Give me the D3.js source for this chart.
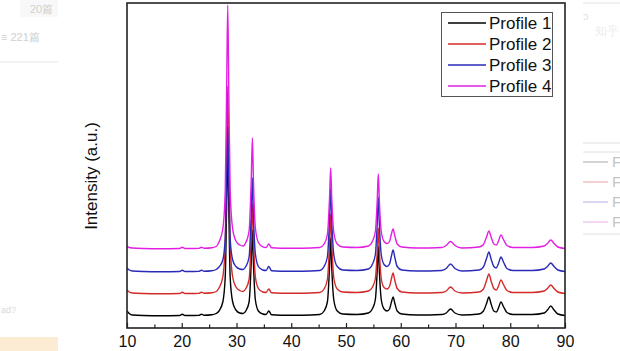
<!DOCTYPE html>
<html>
<head>
<meta charset="utf-8">
<script src="https://cdn.jsdelivr.net/npm/d3@7"></script>
<style>
    body { margin: 0; background: #fff; }
    svg { display: block; font-family: Arial, "Liberation Sans", sans-serif; }
</style>
</head>
<body>
<svg id="chart" width="620" height="351"></svg>
<script>
// 2theta grid shared by every profile (deg)
let twoTheta = [10, 10.4, 11, 13, 16, 19.6, 20.1, 20.6, 23.1, 23.6, 24.1, 25.5, 26.3,
    26.8, 27.5, 27.95, 28.2, 28.4, 28.6, 28.85, 29.3, 29.9, 30.6, 31.2,
    31.7, 32.3, 32.7, 32.9, 33.1, 33.45, 34.0, 34.8,
    35.4, 35.9, 36.4, 38, 42, 45.2,
    46.0, 46.6, 47.0, 47.2, 47.4, 47.8, 48.4, 49.4, 52, 54.1,
    54.8, 55.35, 55.7, 55.9, 56.1, 56.45, 56.95, 57.5,
    57.95, 58.3, 58.6, 58.9, 59.35, 60.2, 63, 67.5,
    68.3, 69.1, 69.9, 71.2, 74.3,
    75.1, 75.7, 76.1, 76.5, 77.0, 77.45,
    77.85, 78.3, 78.8, 79.4, 80.5, 84, 86.2,
    86.8, 87.4, 88.0, 88.7, 90];

// intensity above each profile's own baseline (a.u.)
let profile1 = [5, 2.5, 1, 0.5, 0.3, 0.5, 1.8, 0.5, 0.6, 1.8, 0.7, 1.2, 2.5,
    5, 14, 40, 110, 166, 105, 38, 14, 6, 3, 2.5,
    5, 14, 55, 86, 52, 16, 5, 2,
    1.5, 5, 1.2, 0.8, 0.8, 1.5,
    5, 14, 50, 78, 48, 15, 5, 2, 1.5, 3,
    7, 16, 45, 70, 44, 16, 7, 5,
    7, 14, 19, 13, 5, 2, 1, 1.5,
    3, 7, 3, 1, 2,
    5, 13, 19, 12, 5, 4,
    8, 14, 9, 3.5, 1.5, 1.5, 3,
    6, 10, 6, 2, 0.5];
let profile2 = [4, 2, 1, 0.5, 0.3, 0.5, 1.8, 0.5, 0.6, 1.8, 0.7, 1.2, 2.5,
    6, 17, 50, 137, 208, 131, 48, 17, 7, 3.5, 2.5,
    5.5, 14.5, 58, 90, 54, 17, 5.5, 2,
    1.5, 5, 1.2, 0.8, 0.8, 1.5,
    5, 14.5, 51, 80, 50, 15, 5, 2, 1.5, 3,
    6.5, 15, 42, 66, 42, 15, 6.5, 5,
    7.5, 15.5, 21, 14, 5.5, 2, 1, 1.5,
    3, 7, 3, 1, 2,
    5, 14, 20, 13, 5.5, 4,
    8, 14, 9, 3.5, 1.5, 1.5, 3,
    5.5, 9, 5.5, 2, 0.5];
let profile3 = [4, 2, 1, 0.5, 0.3, 0.5, 1.8, 0.5, 0.6, 1.8, 0.7, 1.2, 2.5,
    5, 12, 35, 96, 145, 92, 33, 12, 5.5, 3, 2.5,
    5.5, 15, 60, 94, 56, 18, 5.5, 2,
    1.5, 5.5, 1.2, 0.8, 0.8, 1.5,
    5.5, 15, 54, 84, 52, 16, 5.5, 2, 1.5, 3,
    7.5, 17, 48, 75, 47, 17, 7.5, 5.5,
    8, 16, 22, 15, 5.5, 2, 1, 1.5,
    3.5, 8, 3.5, 1, 2,
    5, 14, 20, 13, 5.5, 4,
    8.5, 15, 9.5, 3.5, 1.5, 1.5, 3,
    5.5, 9, 5.5, 2, 0.5];
let profile4 = [3, 1.5, 1, 0.5, 0.3, 0.5, 1.8, 0.5, 0.6, 1.8, 0.7, 1.2, 2.5,
    7, 20, 59, 161, 244, 154, 56, 20, 8, 4, 3,
    6.5, 18, 71, 111, 67, 21, 6.5, 2.2,
    1.5, 5, 1.2, 0.8, 0.8, 1.5,
    5, 14.5, 52, 81, 50, 15.5, 5, 2, 1.5, 3,
    7.5, 17, 48, 75, 47, 17, 7.5, 5.5,
    7.5, 15, 20, 13.5, 5, 2, 1, 1.5,
    3.5, 7.5, 3.5, 1, 2,
    4.5, 12.5, 18, 12, 5, 4,
    8, 14, 9, 3.5, 1.5, 1.5, 3,
    5.5, 9, 5.5, 2, 0.5];

// stacking offsets (a.u.)
let offsets = [12, 34, 56, 79];
let seriesNames = ['Profile 1', 'Profile 2', 'Profile 3', 'Profile 4'];
let seriesValues = [profile1, profile2, profile3, profile4];
let seriesColors = ['#000000', '#d42a2a', '#2a2ab8', '#e21fe2'];
let xTicks = [10, 20, 30, 40, 50, 60, 70, 80, 90];
let xMinorTicks = [15, 25, 35, 45, 55, 65, 75, 85];

let svg = d3.select('#chart');

// faint page clutter around the chart
function draw_background() {
    let bg = svg.append('g').attr('id', 'g-bg');
    bg.append('rect').attr('x', 20).attr('y', 0).attr('width', 38).attr('height', 17).attr('fill', '#f8f8f8');
    bg.append('text').attr('x', 30).attr('y', 13).attr('font-size', 11).attr('fill', '#d0d0d0').text('20篇');
    bg.append('text').attr('x', 1).attr('y', 41).attr('font-size', 11).attr('fill', '#d0d0d0').text('≡ 221篇');
    bg.append('line').attr('x1', 0).attr('x2', 58).attr('y1', 62).attr('y2', 62).attr('stroke', '#f3f3f3').attr('stroke-width', 2);
    bg.append('text').attr('x', 1).attr('y', 313).attr('font-size', 9).attr('fill', '#d8d8d8').text('ad?');
    bg.append('rect').attr('x', 0).attr('y', 337).attr('width', 58).attr('height', 14).attr('fill', '#fdecd4');

    bg.append('line').attr('x1', 583).attr('x2', 620).attr('y1', 3).attr('y2', 3).attr('stroke', '#e2e2e2');
    bg.append('text').attr('x', 583).attr('y', 20).attr('font-size', 11).attr('fill', '#e0e0e0').text('ↄ');
    bg.append('text').attr('x', 595).attr('y', 35).attr('font-size', 12).attr('fill', '#ececec').text('知乎');
    [143, 152, 234].forEach(function (y) {
        bg.append('line').attr('x1', 583).attr('x2', 620).attr('y1', y).attr('y2', y).attr('stroke', '#e0e0e0');
    });
    let faint = ['#bdbdbd', '#f2b6b6', '#c2c2ee', '#f0c2f0'];
    [162, 182, 202, 222].forEach(function (y, i) {
        bg.append('line').attr('x1', 583).attr('x2', 608).attr('y1', y).attr('y2', y).attr('stroke', faint[i]).attr('stroke-width', 1.3);
        bg.append('text').attr('x', 612).attr('y', y + 5).attr('font-size', 15).attr('fill', '#c4c4c4').text('F');
    });
}

function draw_chart() {
    let margin = {left: 127, top: 3, right: 55, bottom: 23};
    let width = 620 - margin.left - margin.right,
        height = 351 - margin.top - margin.bottom;

    let x = d3.scaleLinear().domain([10, 90]).range([margin.left, margin.left + width]);
    let y = d3.scaleLinear().domain([0, height]).range([margin.top + height, margin.top]);

    svg.append('clipPath').attr('id', 'clip')
        .append('rect')
        .attr('x', margin.left).attr('y', margin.top)
        .attr('width', width).attr('height', height);

    // lines
    let line = d3.line()
        .x(d => x(d[0]))
        .y(d => y(d[1]))
        .curve(d3.curveMonotoneX);

    let gLines = svg.append('g').attr('clip-path', 'url(#clip)');
    seriesValues.forEach(function (vals, k) {
        let pts = twoTheta.map((t, i) => [t, vals[i] + offsets[k]]);
        gLines.append('path')
            .datum(pts)
            .attr('d', line)
            .attr('fill', 'none')
            .attr('stroke', seriesColors[k])
            .attr('stroke-width', 1.4)
            .attr('stroke-linejoin', 'round');
    });

    // bottom axis, ticks point inward
    let xAxis = d3.axisBottom(x).tickValues(xTicks).tickSizeInner(-5).tickSizeOuter(0).tickPadding(7);
    let gx = svg.append('g')
        .attr('transform', 'translate(0,' + (margin.top + height) + ')')
        .call(xAxis);
    gx.select('.domain').remove();
    gx.selectAll('.tick line').attr('stroke', '#222').attr('stroke-width', 1.2);
    gx.selectAll('.tick text').attr('font-size', 16).attr('fill', '#111').attr('dy', '0.75em');

    let xMinor = d3.axisBottom(x).tickValues(xMinorTicks).tickSize(-3.5).tickFormat('');
    let gm = svg.append('g')
        .attr('transform', 'translate(0,' + (margin.top + height) + ')')
        .call(xMinor);
    gm.select('.domain').remove();
    gm.selectAll('.tick line').attr('stroke', '#222').attr('stroke-width', 1.2);

    // frame
    svg.append('rect')
        .attr('x', margin.left).attr('y', margin.top)
        .attr('width', width).attr('height', height)
        .attr('fill', 'none')
        .attr('stroke', '#222')
        .attr('stroke-width', 1.6);

    // y label
    svg.append('text')
        .attr('transform', 'translate(97,' + 176 + ') rotate(-90)')
        .attr('text-anchor', 'middle')
        .attr('font-size', 17)
        .attr('fill', '#111')
        .text('Intensity (a.u.)');

    // legend
    let gLegend = svg.append('g').attr('id', 'g-legend');
    gLegend.append('rect')
        .attr('x', 441.5).attr('y', 12.5)
        .attr('width', 111).attr('height', 84)
        .attr('fill', '#fff')
        .attr('stroke', '#555')
        .attr('stroke-width', 1);
    seriesNames.forEach(function (name, k) {
        let cy = 23 + k * 21;
        gLegend.append('line')
            .attr('x1', 448).attr('x2', 486)
            .attr('y1', cy).attr('y2', cy)
            .attr('stroke', seriesColors[k])
            .attr('stroke-width', 1.6);
        gLegend.append('text')
            .attr('x', 489).attr('y', cy + 6)
            .attr('font-size', 17)
            .attr('fill', '#111')
            .text(name);
    });
}

draw_background();
draw_chart();
</script>
</body>
</html>
